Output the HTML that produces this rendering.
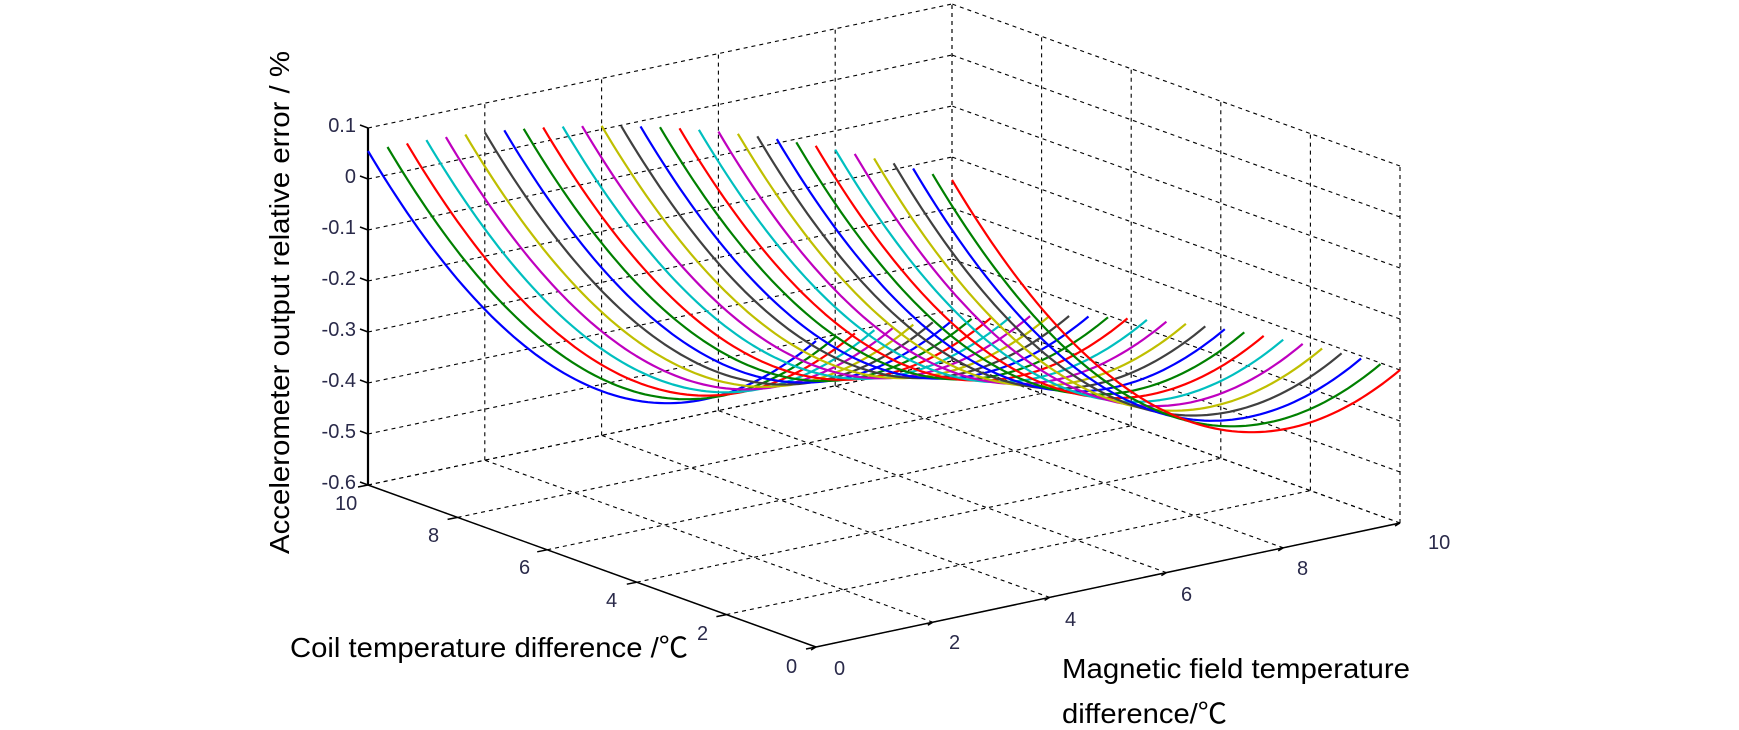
<!DOCTYPE html>
<html><head><meta charset="utf-8">
<style>
html,body{margin:0;padding:0;background:#fff;}
svg{display:block;}
</style></head>
<body>
<svg id="s" width="1739" height="730" viewBox="0 0 1739 730" xmlns="http://www.w3.org/2000/svg">
<g id="grid" fill="none" stroke="#000" stroke-width="1.1" stroke-dasharray="4,4"></g>
<g id="axes" fill="none" stroke="#000" stroke-width="1.5"></g>
<g id="curves" fill="none" stroke-width="2.2" stroke-linejoin="round"></g>
<g id="ticks" font-family="Liberation Sans, sans-serif" font-size="20" fill="#2a2a4a"></g>
<text x="290" y="657" font-family="Liberation Sans, 'Noto Sans CJK SC', sans-serif" font-size="28" textLength="398" lengthAdjust="spacingAndGlyphs" fill="#000">Coil temperature difference /℃</text>
<text x="1062" y="678" font-family="Liberation Sans, 'Noto Sans CJK SC', sans-serif" font-size="28" textLength="348" lengthAdjust="spacingAndGlyphs" fill="#000">Magnetic field temperature</text>
<text x="1062" y="723" font-family="Liberation Sans, 'Noto Sans CJK SC', sans-serif" font-size="28" textLength="165" lengthAdjust="spacingAndGlyphs" fill="#000">difference/℃</text>
<text transform="translate(289,554) rotate(-90)" x="0" y="0" font-family="Liberation Sans, sans-serif" font-size="28" textLength="503" lengthAdjust="spacingAndGlyphs" fill="#000">Accelerometer output relative error / %</text>
</svg>
<script>
(function(){
var NS="http://www.w3.org/2000/svg";
function P(m,c,z){return [816+58.4*m-44.8*c, 647-12.4*m-16.2*c-(z+0.6)*510];}
function line(g,a,b,extra){var l=document.createElementNS(NS,"line");l.setAttribute("x1",a[0].toFixed(1));l.setAttribute("y1",a[1].toFixed(1));l.setAttribute("x2",b[0].toFixed(1));l.setAttribute("y2",b[1].toFixed(1));g.appendChild(l);return l;}
var grid=document.getElementById("grid"),axes=document.getElementById("axes"),curves=document.getElementById("curves"),ticks=document.getElementById("ticks");
var zt=[-0.6,-0.5,-0.4,-0.3,-0.2,-0.1,0,0.1];
var t,i;
// floor grid
for(t=0;t<=10;t+=2){line(grid,P(t,0,-0.6),P(t,10,-0.6));line(grid,P(0,t,-0.6),P(10,t,-0.6));}
// back wall c=10
for(t=0;t<=10;t+=2){line(grid,P(t,10,-0.6),P(t,10,0.1));}
for(i=0;i<zt.length;i++){line(grid,P(0,10,zt[i]),P(10,10,zt[i]));}
// side wall m=10
for(t=0;t<=10;t+=2){line(grid,P(10,t,-0.6),P(10,t,0.1));}
for(i=0;i<zt.length;i++){line(grid,P(10,0,zt[i]),P(10,10,zt[i]));}
// axes
line(axes,P(0,10,-0.6),P(0,10,0.1)).setAttribute("stroke-width","2.2");
line(axes,P(0,10,-0.6),P(0,0,-0.6));
line(axes,P(0,0,-0.6),P(10,0,-0.6));
// tick marks
for(i=0;i<zt.length;i++){var p=P(0,10,zt[i]);line(axes,[p[0]-8,p[1]-3],p);}
for(t=0;t<=10;t+=2){var p=P(0,t,-0.6);line(axes,[p[0]-10,p[1]+2],p);var q=P(t,0,-0.6);line(axes,[q[0]-5,q[1]+3],q);}
// tick labels
function txt(x,y,s,anchor){var e=document.createElementNS(NS,"text");e.setAttribute("x",x);e.setAttribute("y",y);if(anchor)e.setAttribute("text-anchor",anchor);e.textContent=s;ticks.appendChild(e);}
var zl=["-0.6","-0.5","-0.4","-0.3","-0.2","-0.1","0","0.1"];
for(i=0;i<zt.length;i++){var p=P(0,10,zt[i]);txt(p[0]-12,p[1]+4,zl[i],"end");}
var cl=[[0,786,673],[2,697,640],[4,606,607],[6,519,574],[8,428,542],[10,335,510]];
cl.forEach(function(a){txt(a[1],a[2],String(a[0]));});
var ml=[[0,840,675],[2,955,649],[4,1071,626],[6,1187,601],[8,1303,575],[10,1434,549]];
ml.forEach(function(a){txt(a[1]-6,a[2],String(a[0]));});
// curves
var cols=["#0000ff","#008000","#ff0000","#00bfbf","#bf00bf","#bfbf00","#404040"];
function f(c){return 0.01108*c*c-0.1053*c;}
function g(m){return -0.003*m*m;}
for(i=0;i<=30;i++){
 var m=i/3,d="";
 for(var k=0;k<=80;k++){var c=10-k*0.125;var z=f(c)+g(m);var p=P(m,c,z);d+=(k?"L":"M")+p[0].toFixed(1)+" "+p[1].toFixed(1);}
 var path=document.createElementNS(NS,"path");path.setAttribute("d",d);path.setAttribute("stroke",cols[i%7]);curves.appendChild(path);
}
})();
</script>
</body></html>
